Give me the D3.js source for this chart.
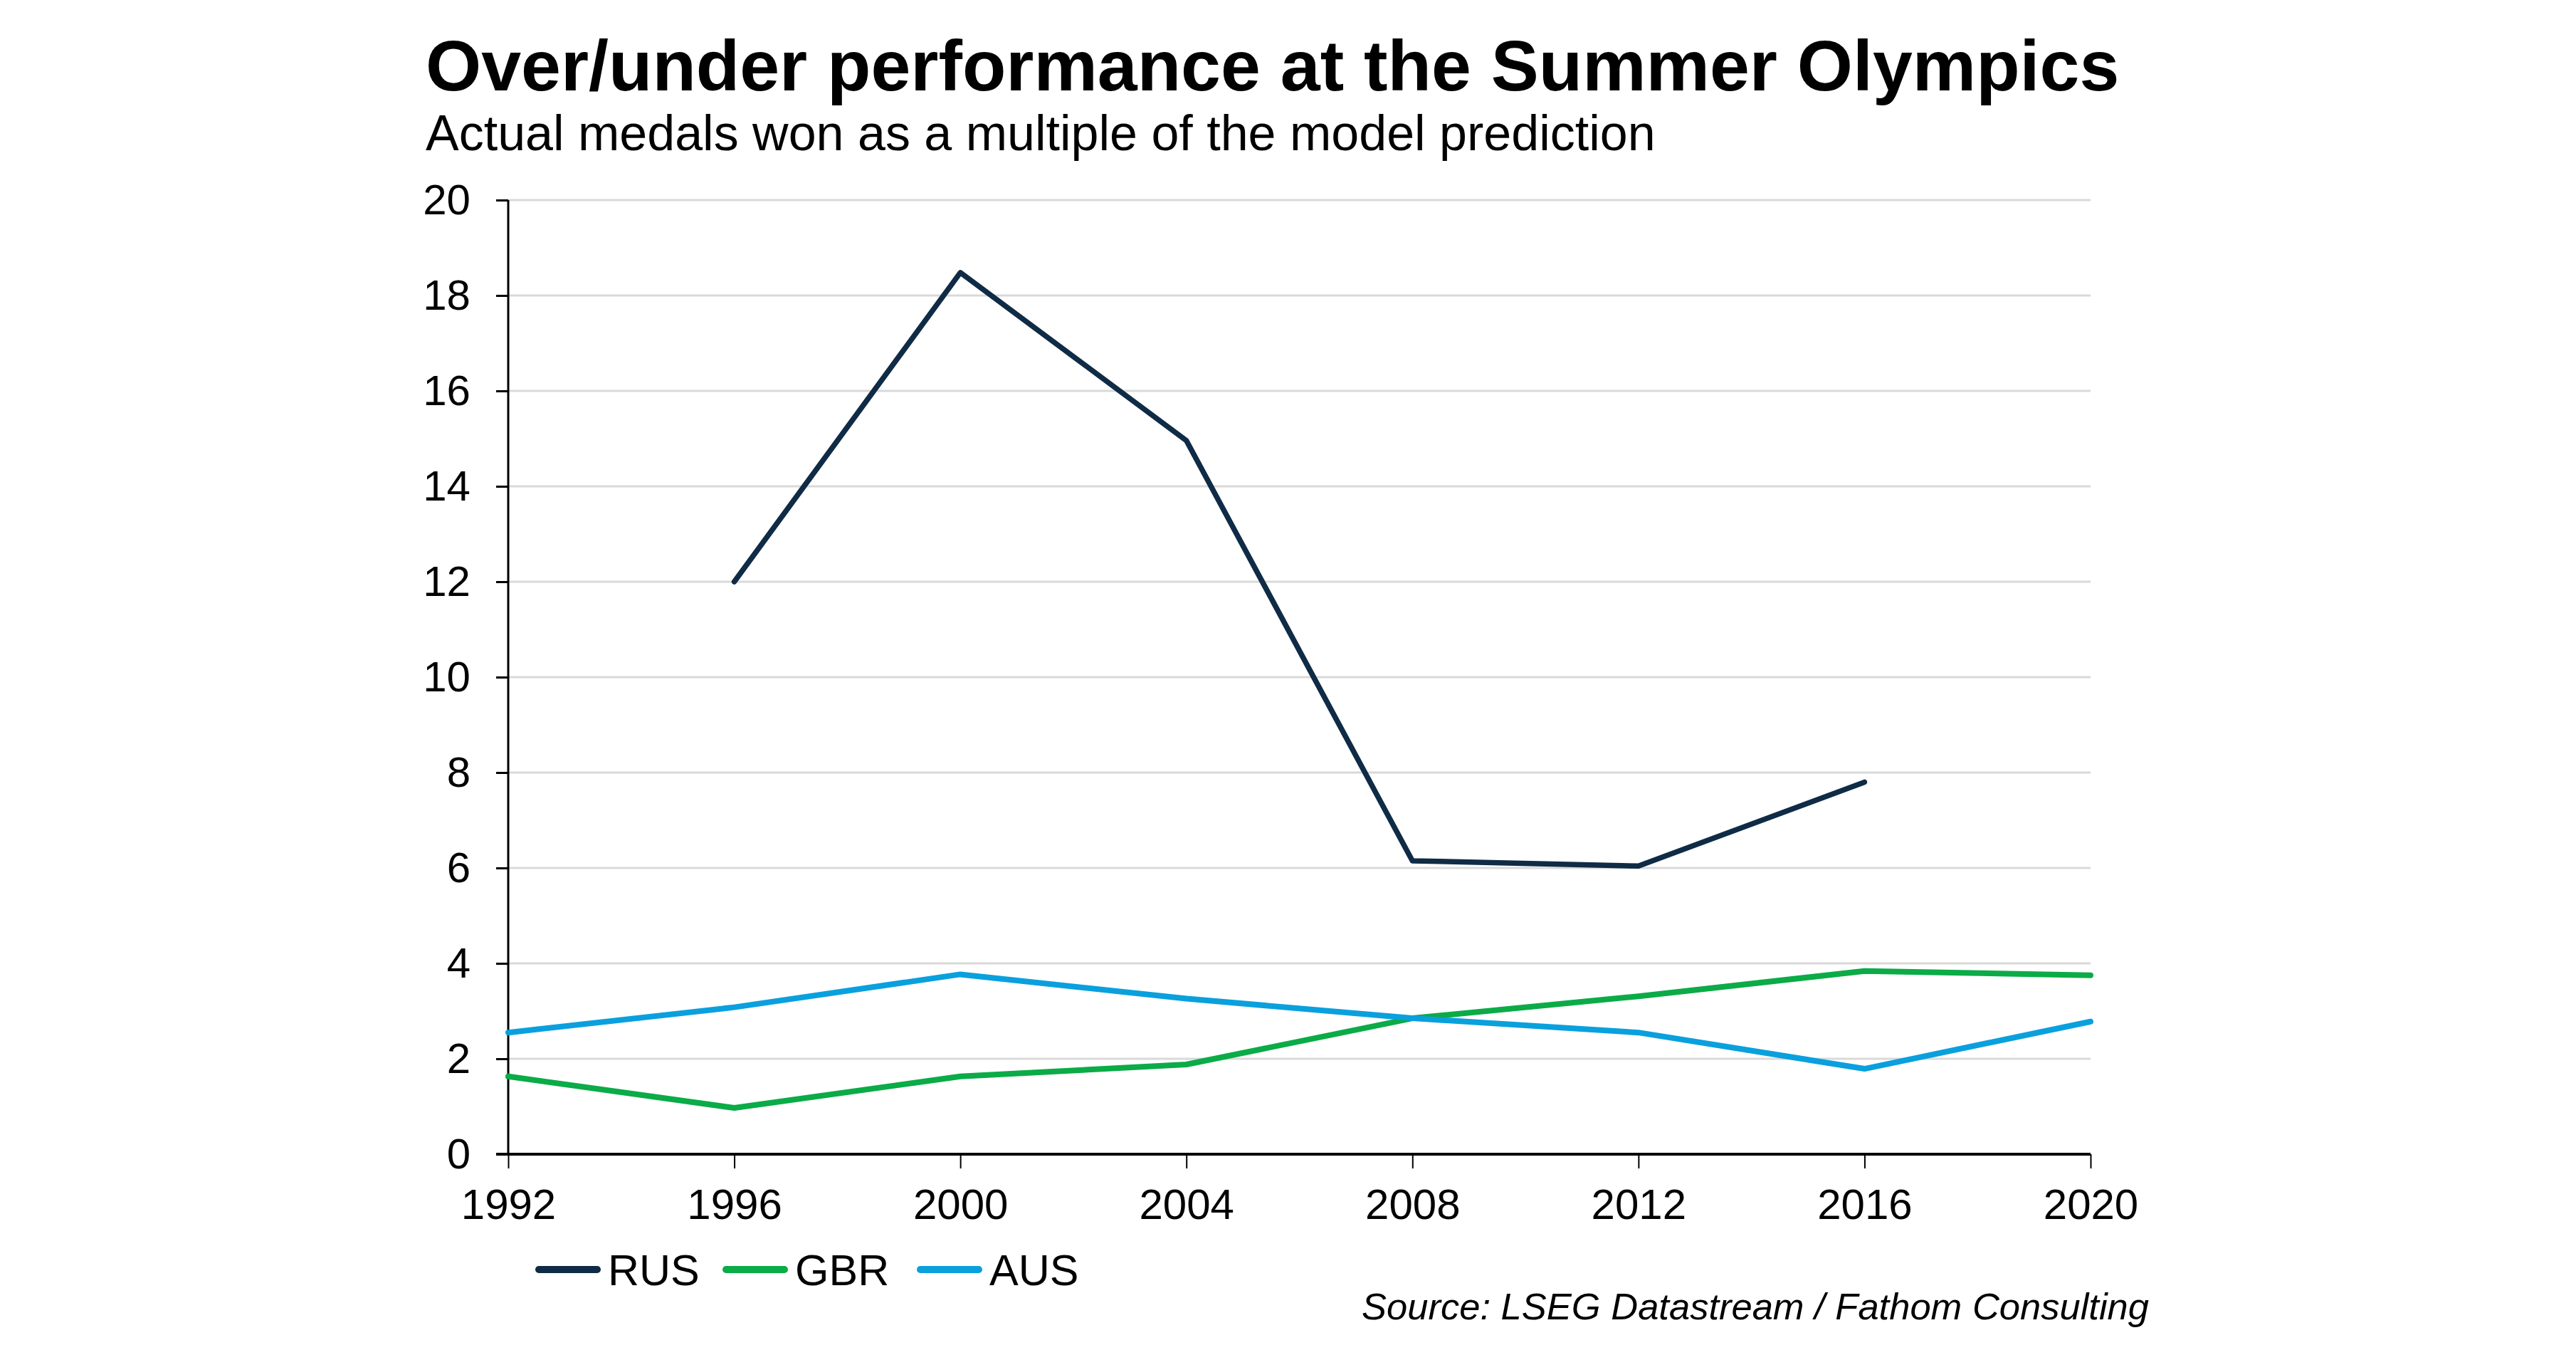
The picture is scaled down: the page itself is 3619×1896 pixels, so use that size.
<!DOCTYPE html>
<html><head><meta charset="utf-8">
<script src="https://cdn.jsdelivr.net/npm/d3@7"></script>
<style>body{margin:0;background:#fff}svg{display:block}text{font-family:"Liberation Sans",Arial,sans-serif}</style>
</head><body>
<script>
const years = [1992, 1996, 2000, 2004, 2008, 2012, 2016, 2020];
const rus = [null, 12.0, 18.48, 14.96, 6.15, 6.04, 7.80, null];
const gbr = [1.63, 0.97, 1.63, 1.88, 2.85, 3.31, 3.84, 3.75];
const aus = [2.55, 3.08, 3.77, 3.26, 2.85, 2.55, 1.79, 2.78];
const yTicks = [0, 2, 4, 6, 8, 10, 12, 14, 16, 18, 20];
const seriesNames = ["RUS", "GBR", "AUS"];
const seriesColors = ["#0f2b45", "#0bab47", "#0aa0dd"];
const title = "Over/under performance at the Summer Olympics";
const subtitle = "Actual medals won as a multiple of the model prediction";
const source = "Source: LSEG Datastream / Fathom Consulting";

const W = 3619, H = 1896;
const L = 714, R = 2937, T = 281, B = 1621;
const svg = d3.select("body").append("svg").attr("width", W).attr("height", H);

const x = d3.scaleLinear().domain([1992, 2020]).range([L, R]);
const y = d3.scaleLinear().domain([0, 20]).range([B, T]);

svg.append("text").attr("x", 598).attr("y", 127).attr("font-size", 100.5).attr("font-weight", "bold").attr("fill", "#000").text(title);
svg.append("text").attr("x", 598).attr("y", 211).attr("font-size", 70).attr("fill", "#000").text(subtitle);

// gridlines
svg.append("g").selectAll("line").data(yTicks.filter(d => d > 0)).join("line")
  .attr("x1", L).attr("x2", R).attr("y1", d => y(d)).attr("y2", d => y(d))
  .attr("stroke", "#d9d9d9").attr("stroke-width", 3);

// y axis
const ya = svg.append("g").attr("transform", `translate(${L},0)`)
  .call(d3.axisLeft(y).tickValues(yTicks).tickSize(17).tickPadding(36).tickFormat(d3.format("d")));
ya.select(".domain").attr("stroke", "#000").attr("stroke-width", 3).attr("d", `M0,${B}V${T}`);
ya.selectAll(".tick line").attr("stroke", "#000").attr("stroke-width", 3);
ya.selectAll("text").attr("font-size", 60).attr("fill", "#000").attr("font-family", "Liberation Sans, Arial, sans-serif");

// x axis
const xa = svg.append("g").attr("transform", `translate(0,${B})`)
  .call(d3.axisBottom(x).tickValues(years).tickSize(20).tickPadding(28).tickFormat(d3.format("d")));
xa.select(".domain").attr("stroke", "#000").attr("stroke-width", 4).attr("d", `M${L-17},0H${R}`);
xa.selectAll(".tick line").attr("stroke", "#000").attr("stroke-width", 2);
xa.selectAll("text").attr("font-size", 60).attr("fill", "#000").attr("font-family", "Liberation Sans, Arial, sans-serif");

const allSeries = [rus, gbr, aus];
const widths = [7.5, 8, 8];
const line = d3.line().defined(d => d.v !== null).x(d => x(d.year)).y(d => y(d.v));
allSeries.forEach((s, i) => {
  const pts = years.map((yr, j) => ({year: yr, v: s[j]}));
  svg.append("path").datum(pts).attr("d", line).attr("fill", "none")
    .attr("stroke", seriesColors[i]).attr("stroke-width", widths[i])
    .attr("stroke-linejoin", "round").attr("stroke-linecap", "round");
});

// legend
const legX = [757, 1020, 1293];
const lg = svg.append("g");
seriesNames.forEach((n, i) => {
  lg.append("line").attr("x1", legX[i]).attr("x2", legX[i] + 82).attr("y1", 1783).attr("y2", 1783)
    .attr("stroke", seriesColors[i]).attr("stroke-width", 10).attr("stroke-linecap", "round");
  lg.append("text").attr("x", legX[i] + 97).attr("y", 1805).attr("font-size", 61).attr("fill", "#000").text(n);
});

svg.append("text").attr("x", 3019).attr("y", 1853).attr("text-anchor", "end").attr("font-size", 52.5)
  .attr("font-style", "italic").attr("fill", "#000").text(source);
</script>
</body></html>
